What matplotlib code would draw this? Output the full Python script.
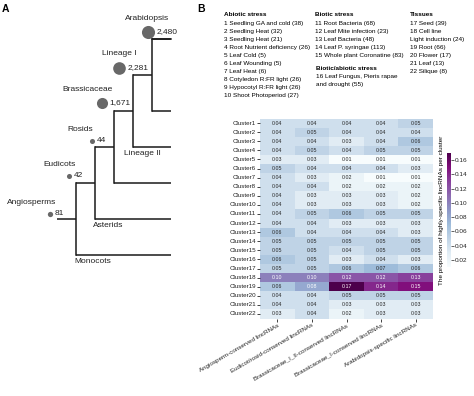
import matplotlib.pyplot as plt
import matplotlib.transforms as mtransforms
import numpy as np
import seaborn as sns

plt.rcParams['font.family'] = ['Liberation Sans', 'DejaVu Sans']

# ---- panel A data: ladder tree, clade names and lincRNA counts ----
clades = ["Angiosperms", "Eudicots", "Rosids", "Brassicaceae", "Lineage I", "Arabidopsis"]
clade_counts = [81, 42, 44, 1671, 2281, 2480]
sisters = ["Monocots", "Asterids", "", "Lineage II", ""]

# ---- panel B data: cluster legend ----
abiotic = ["1 Seedling GA and cold (38)", "2 Seedling Heat (32)", "3 Seedling Heat (21)",
           "4 Root Nutrient deficiency (26)", "5 Leaf Cold (5)", "6 Leaf Wounding (5)",
           "7 Leaf Heat (6)", "8 Cotyledon R:FR light (26)", "9 Hypocotyl R:FR light (26)",
           "10 Shoot Photoperiod (27)"]
biotic = ["11 Root Bacteria (68)", "12 Leaf Mite infection (23)", "13 Leaf Bacteria (48)",
          "14 Leaf P. syringae (113)", "15 Whole plant Coronatine (83)"]
bio_abiotic = ["16 Leaf Fungus, Pieris rapae", "and drought (55)"]
tissues = ["17 Seed (39)", "18 Cell line", "Light induction (24)", "19 Root (66)",
           "20 Flower (17)", "21 Leaf (13)", "22 Silique (8)"]

# ---- panel B data: heatmap ----
columns = ["Angiosperm-conserved lincRNAs", "Eudicot/rosid-conserved lincRNAs",
           "Brassicaceae_I_II-conserved lincRNAs", "Brassicaceae_I-conserved lincRNAs",
           "Arabidopsis-specific lincRNAs"]
clusters = ["Cluster%d" % i for i in range(1, 23)]
props = np.array([
    [0.04, 0.04, 0.04, 0.04, 0.05],
    [0.04, 0.05, 0.04, 0.04, 0.04],
    [0.04, 0.04, 0.03, 0.04, 0.06],
    [0.04, 0.05, 0.04, 0.05, 0.05],
    [0.03, 0.03, 0.01, 0.01, 0.01],
    [0.05, 0.04, 0.04, 0.04, 0.03],
    [0.04, 0.03, 0.02, 0.01, 0.01],
    [0.04, 0.04, 0.02, 0.02, 0.02],
    [0.04, 0.03, 0.03, 0.03, 0.02],
    [0.04, 0.03, 0.03, 0.03, 0.02],
    [0.04, 0.05, 0.06, 0.05, 0.05],
    [0.04, 0.04, 0.03, 0.03, 0.03],
    [0.06, 0.04, 0.04, 0.04, 0.03],
    [0.05, 0.05, 0.05, 0.05, 0.05],
    [0.05, 0.05, 0.04, 0.05, 0.05],
    [0.06, 0.05, 0.03, 0.04, 0.03],
    [0.05, 0.05, 0.06, 0.07, 0.06],
    [0.10, 0.10, 0.12, 0.12, 0.13],
    [0.06, 0.08, 0.17, 0.14, 0.15],
    [0.04, 0.04, 0.05, 0.05, 0.05],
    [0.04, 0.04, 0.03, 0.03, 0.03],
    [0.03, 0.04, 0.02, 0.03, 0.03],
])

W, H = 474, 396
fig = plt.figure(figsize=(W / 100, H / 100), dpi=100)


def fx(px):
    return px / W


def fy(py):
    return 1 - py / H


# ---------------- panel A: tree ----------------
axA = fig.add_axes([0, fy(300), fx(200), 300 / H])
axA.set_xlim(-3, 7.526)
axA.set_ylim(-1.25, 7.083)
axA.axis('off')

n = len(clades)
clade_y = [0.0] * n
clade_y[-1] = n  # top leaf sits one extra step above the last sister
for i in range(n - 2, -1, -1):
    clade_y[i] = (clade_y[i + 1] + i) / 2
tip = n

lc = '#1a1a1a'
lw = 1.1
for i in range(n):
    axA.plot([i, i + 1], [clade_y[i], clade_y[i]], color=lc, lw=lw, solid_capstyle='butt')
    if i < n - 1:
        axA.plot([i + 1, i + 1], [i, clade_y[i + 1]], color=lc, lw=lw, solid_capstyle='projecting')
        axA.plot([i + 1, tip], [i, i], color=lc, lw=lw, solid_capstyle='butt')
axA.plot([n - 1, tip], [clade_y[-1], clade_y[-1]], color=lc, lw=lw)

# offsets in px: dot relative to branch start, name relative to dot
dot_off = [(-7, 5), (-7, 7), (-3, 6), (-12, 8), (-14, 7), (-4, 7)]
name_off = [(-18, 11), (-10, 11), (-12, 11), (-15, 13), (0, 14), (-1, 13)]
for i in range(n):
    ddx, ddy = dot_off[i]
    tr_dot = mtransforms.offset_copy(axA.transData, fig=fig, x=ddx, y=ddy, units='dots')
    size = 12 + 0.031 * clade_counts[i]
    axA.scatter([i], [clade_y[i]], s=size, color='#686868', transform=tr_dot, zorder=3, lw=0)
    r = np.sqrt(size) / 2 * 100 / 72
    tr_num = mtransforms.offset_copy(axA.transData, fig=fig, x=ddx + r + 2, y=ddy, units='dots')
    axA.text(i, clade_y[i], format(clade_counts[i], ','), transform=tr_num,
             fontsize=6, ha='left', va='center', color='#222222')
    nx, ny = name_off[i]
    tr_name = mtransforms.offset_copy(axA.transData, fig=fig, x=ddx + nx, y=ddy + ny, units='dots')
    axA.text(i, clade_y[i], clades[i], transform=tr_name, fontsize=6,
             ha='center', va='center', color='#222222')

sister_dx = [-2, -2, 0, -9, 0]
for i, name in enumerate(sisters):
    if not name:
        continue
    tr_s = mtransforms.offset_copy(axA.transData, fig=fig, x=sister_dx[i], y=-3, units='dots')
    axA.text(i + 1, i, name, transform=tr_s, fontsize=6, ha='left', va='top', color='#222222')

fig.text(fx(2), fy(9), "A", fontsize=7.5, fontweight='bold', va='center')
fig.text(fx(197), fy(9), "B", fontsize=7.5, fontweight='bold', va='center')

# ---------------- panel B: legend text ----------------
fs = 4.6
step = 8.1


def block(x, y0, header, lines):
    fig.text(fx(x), fy(y0), header, fontsize=fs, fontweight='bold', va='center')
    for k, s in enumerate(lines):
        fig.text(fx(x), fy(y0 + step * (k + 1)), s, fontsize=fs, va='center')


block(224, 15, "Abiotic stress", abiotic)
block(315, 15, "Biotic stress", biotic)
block(316, 68, "Biotic/abiotic stress", bio_abiotic)
block(410, 15, "Tissues", tissues)

# ---------------- panel B: heatmap ----------------
axH = fig.add_axes([fx(260), fy(318.5), 173 / W, 200 / H])
cax = fig.add_axes([fx(446.5), fy(267), 4 / W, 114 / H])
sns.heatmap(props, ax=axH, cmap='BuPu', vmin=0.01, vmax=0.17, annot=True, fmt='.2f',
            annot_kws={'size': 3.8}, cbar_ax=cax, xticklabels=columns,
            yticklabels=clusters, linewidths=0)
axH.tick_params(axis='both', length=2, width=0.6, labelsize=4.5, pad=1, colors='#222222')
plt.setp(axH.get_yticklabels(), rotation=0)
plt.setp(axH.get_xticklabels(), rotation=30, ha='right', rotation_mode='anchor')

cbar = axH.collections[0].colorbar
cbar.set_ticks([0.02, 0.04, 0.06, 0.08, 0.10, 0.12, 0.14, 0.16])
cbar.ax.tick_params(labelsize=4.6, length=2, width=0.5, pad=1, colors='#222222')
cbar.outline.set_visible(False)
cbar.ax.yaxis.set_label_position('left')
cbar.set_label("The proportion of highly-specific lincRNAs per cluster", fontsize=4.6, labelpad=2)

fig.savefig('out.png', dpi=100)
